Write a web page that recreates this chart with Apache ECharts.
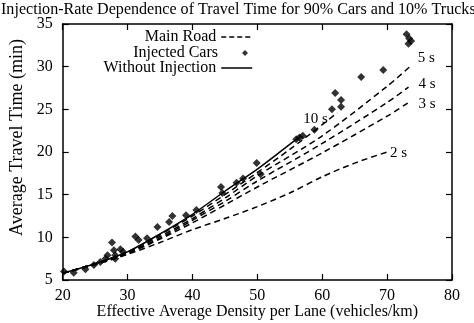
<!DOCTYPE html>
<html>
<head>
<meta charset="utf-8">
<script src="https://cdn.jsdelivr.net/npm/echarts@6/dist/echarts.min.js"></script>
<style>
  html, body { margin: 0; padding: 0; background: #fff; }
  #chart { width: 474px; height: 323px; }
</style>
</head>
<body>
<div id="chart"></div>
<script>
// Travel time (min) versus effective density per lane (vehicles/km)
const withoutInjection = [[20,5.8],[25,6.9],[30,8.3],[35,10.4],[40,12.7],[45,15.4],[50,18.0],[55,20.9],[56.6,21.8]];
const mainRoad10s = [[20,5.8],[25,6.9],[30,8.3],[35,10.3],[40,12.5],[45,15.0],[50,17.6],[55,20.3],[60,23.2],[62.3,24.6]];
const mainRoad5s  = [[20,5.8],[25,6.9],[30,8.3],[35,10.1],[40,12.2],[45,14.6],[50,17.2],[60,21.9],[70,27.7],[73.8,30.2]];
const mainRoad4s  = [[20,5.8],[25,6.9],[30,8.2],[35,9.9],[40,12.0],[45,14.2],[50,16.6],[60,21.0],[70,25.8],[73.3,27.6]];
const mainRoad3s  = [[20,5.8],[25,6.8],[30,8.1],[35,9.8],[40,11.7],[45,13.8],[50,15.9],[60,19.9],[70,24.2],[73.3,25.8]];
const mainRoad2s  = [[20,5.8],[25,6.8],[30,8.0],[35,9.4],[40,10.9],[45,12.2],[50,13.6],[55,15.2],[60,17.1],[65,18.7],[70,20.0]];
const injectedCars = [
  [20.2,6.0],[21.7,5.85],[23.5,6.25],[24.8,6.75],[25.8,7.1],[26.6,7.5],[26.9,7.9],[27.6,9.4],
  [27.9,8.5],[28.1,7.9],[28.1,7.5],[28.9,8.6],[29.3,8.3],[31.2,10.1],[31.7,9.7],[33.0,9.9],
  [34.6,11.2],[36.4,11.8],[36.9,12.5],[39.0,12.6],[40.6,13.2],[44.4,15.9],[44.6,15.2],[46.8,16.4],
  [47.8,16.9],[49.9,18.7],[50.5,17.4],[56.0,21.5],[56.5,21.7],[57.0,21.9],[58.8,22.6],[61.5,25.0],
  [62.0,26.9],[62.9,26.1],[62.9,25.3],[66.0,28.8],[69.4,29.6],[73.0,33.8],[73.4,33.3],[73.7,33.0],[73.3,32.7]
];
const xTicks = [20, 30, 40, 50, 60, 70, 80];
const yTicks = [5, 10, 15, 20, 25, 30, 35];

const FONT = '"Liberation Serif", "DejaVu Serif", serif';
const chart = echarts.init(document.getElementById('chart'), null, { renderer: 'canvas' });

const frameAxis = (extra) => Object.assign({
  type: 'value',
  axisLine: { show: true, lineStyle: { color: '#000', width: 1.5 } },
  axisTick: { show: true, inside: true, length: 6, lineStyle: { color: '#000', width: 1.2 } },
  splitLine: { show: false }
}, extra);

const DASH = [6, 4];
const dashed = (data, label, offset) => ({
  name: 'Main Road',
  type: 'line',
  data: data,
  smooth: 0.3,
  symbol: 'none',
  itemStyle: { color: '#000' },
  lineStyle: { color: '#000', width: 1.5, type: DASH },
  endLabel: { show: true, formatter: label, offset: offset, color: '#000', fontFamily: FONT, fontSize: 15 },
  z: 3
});

const legendBase = {
  orient: 'vertical', align: 'right', right: 221, itemWidth: 31, itemHeight: 8, padding: 0,
  textStyle: { fontFamily: FONT, fontSize: 16, color: '#000' }
};

chart.setOption({
  animation: false,
  backgroundColor: '#fff',
  title: {
    text: 'Injection-Rate Dependence of Travel Time for 90% Cars and 10% Trucks',
    left: 1, top: 2, padding: 0,
    textStyle: { fontFamily: FONT, fontSize: 16.1, fontWeight: 'normal', color: '#000' }
  },
  legend: [
    Object.assign({}, legendBase, {
      top: 29,
      data: [{ name: 'Main Road', itemStyle: { opacity: 0 } }],
      lineStyle: { color: '#000', width: 1.5, type: [5, 3] }
    }),
    Object.assign({}, legendBase, {
      top: 45, right: 226, itemWidth: 18, itemHeight: 6,
      textStyle: { fontFamily: FONT, fontSize: 16, color: '#000', padding: [0, 13, 0, 0] },
      data: [{ name: 'Injected Cars', icon: 'path://M5,0L10,5L5,10L0,5Z' }]
    }),
    Object.assign({}, legendBase, {
      top: 60,
      data: [{ name: 'Without Injection', itemStyle: { opacity: 0 } }],
      lineStyle: { color: '#000', width: 1.5 }
    })
  ],
  grid: { left: 62.7, right: 22, top: 24, bottom: 43, containLabel: false, outerBoundsMode: 'none' },
  xAxis: [
    frameAxis({
      min: 20, max: 80, interval: 10, position: 'bottom',
      name: 'Effective Average Density per Lane (vehicles/km)', nameLocation: 'middle',
      nameGap: 24, nameMoveOverlap: false,
      nameTextStyle: { fontFamily: FONT, fontSize: 16, color: '#000' },
      axisLabel: { margin: 8, fontFamily: FONT, fontSize: 16, color: '#000',
        formatter: v => xTicks.includes(v) ? String(v) : '' }
    }),
    frameAxis({ min: 20, max: 80, interval: 10, position: 'top', axisLabel: { show: false } })
  ],
  yAxis: [
    frameAxis({
      min: 5, max: 35, interval: 5, position: 'left',
      name: 'Average Travel Time (min)', nameLocation: 'middle', nameGap: 33,
      nameTextStyle: { fontFamily: FONT, fontSize: 18, color: '#000', padding: [0, 0, 0, 29] },
      axisLabel: { margin: 10, fontFamily: FONT, fontSize: 16, color: '#000',
        formatter: v => yTicks.includes(v) ? String(v) : '' }
    }),
    frameAxis({ min: 5, max: 35, interval: 5, position: 'right', axisLabel: { show: false } })
  ],
  series: [
    dashed(mainRoad10s, '10 s', [-42, 6]),
    dashed(mainRoad5s, '5 s', [-2, -7]),
    dashed(mainRoad4s, '4 s', [2, -3]),
    dashed(mainRoad3s, '3 s', [2, 2]),
    dashed(mainRoad2s, '2 s', [-5, 1]),
    {
      name: 'Injected Cars', type: 'scatter', data: injectedCars,
      symbol: 'diamond', symbolSize: 8, itemStyle: { color: '#000' }, z: 4
    },
    {
      name: 'Without Injection', type: 'line', data: withoutInjection,
      smooth: 0.3, symbol: 'none', itemStyle: { color: '#000' },
      lineStyle: { color: '#000', width: 1.5 }, z: 3
    }
  ]
});
</script>
</body>
</html>
